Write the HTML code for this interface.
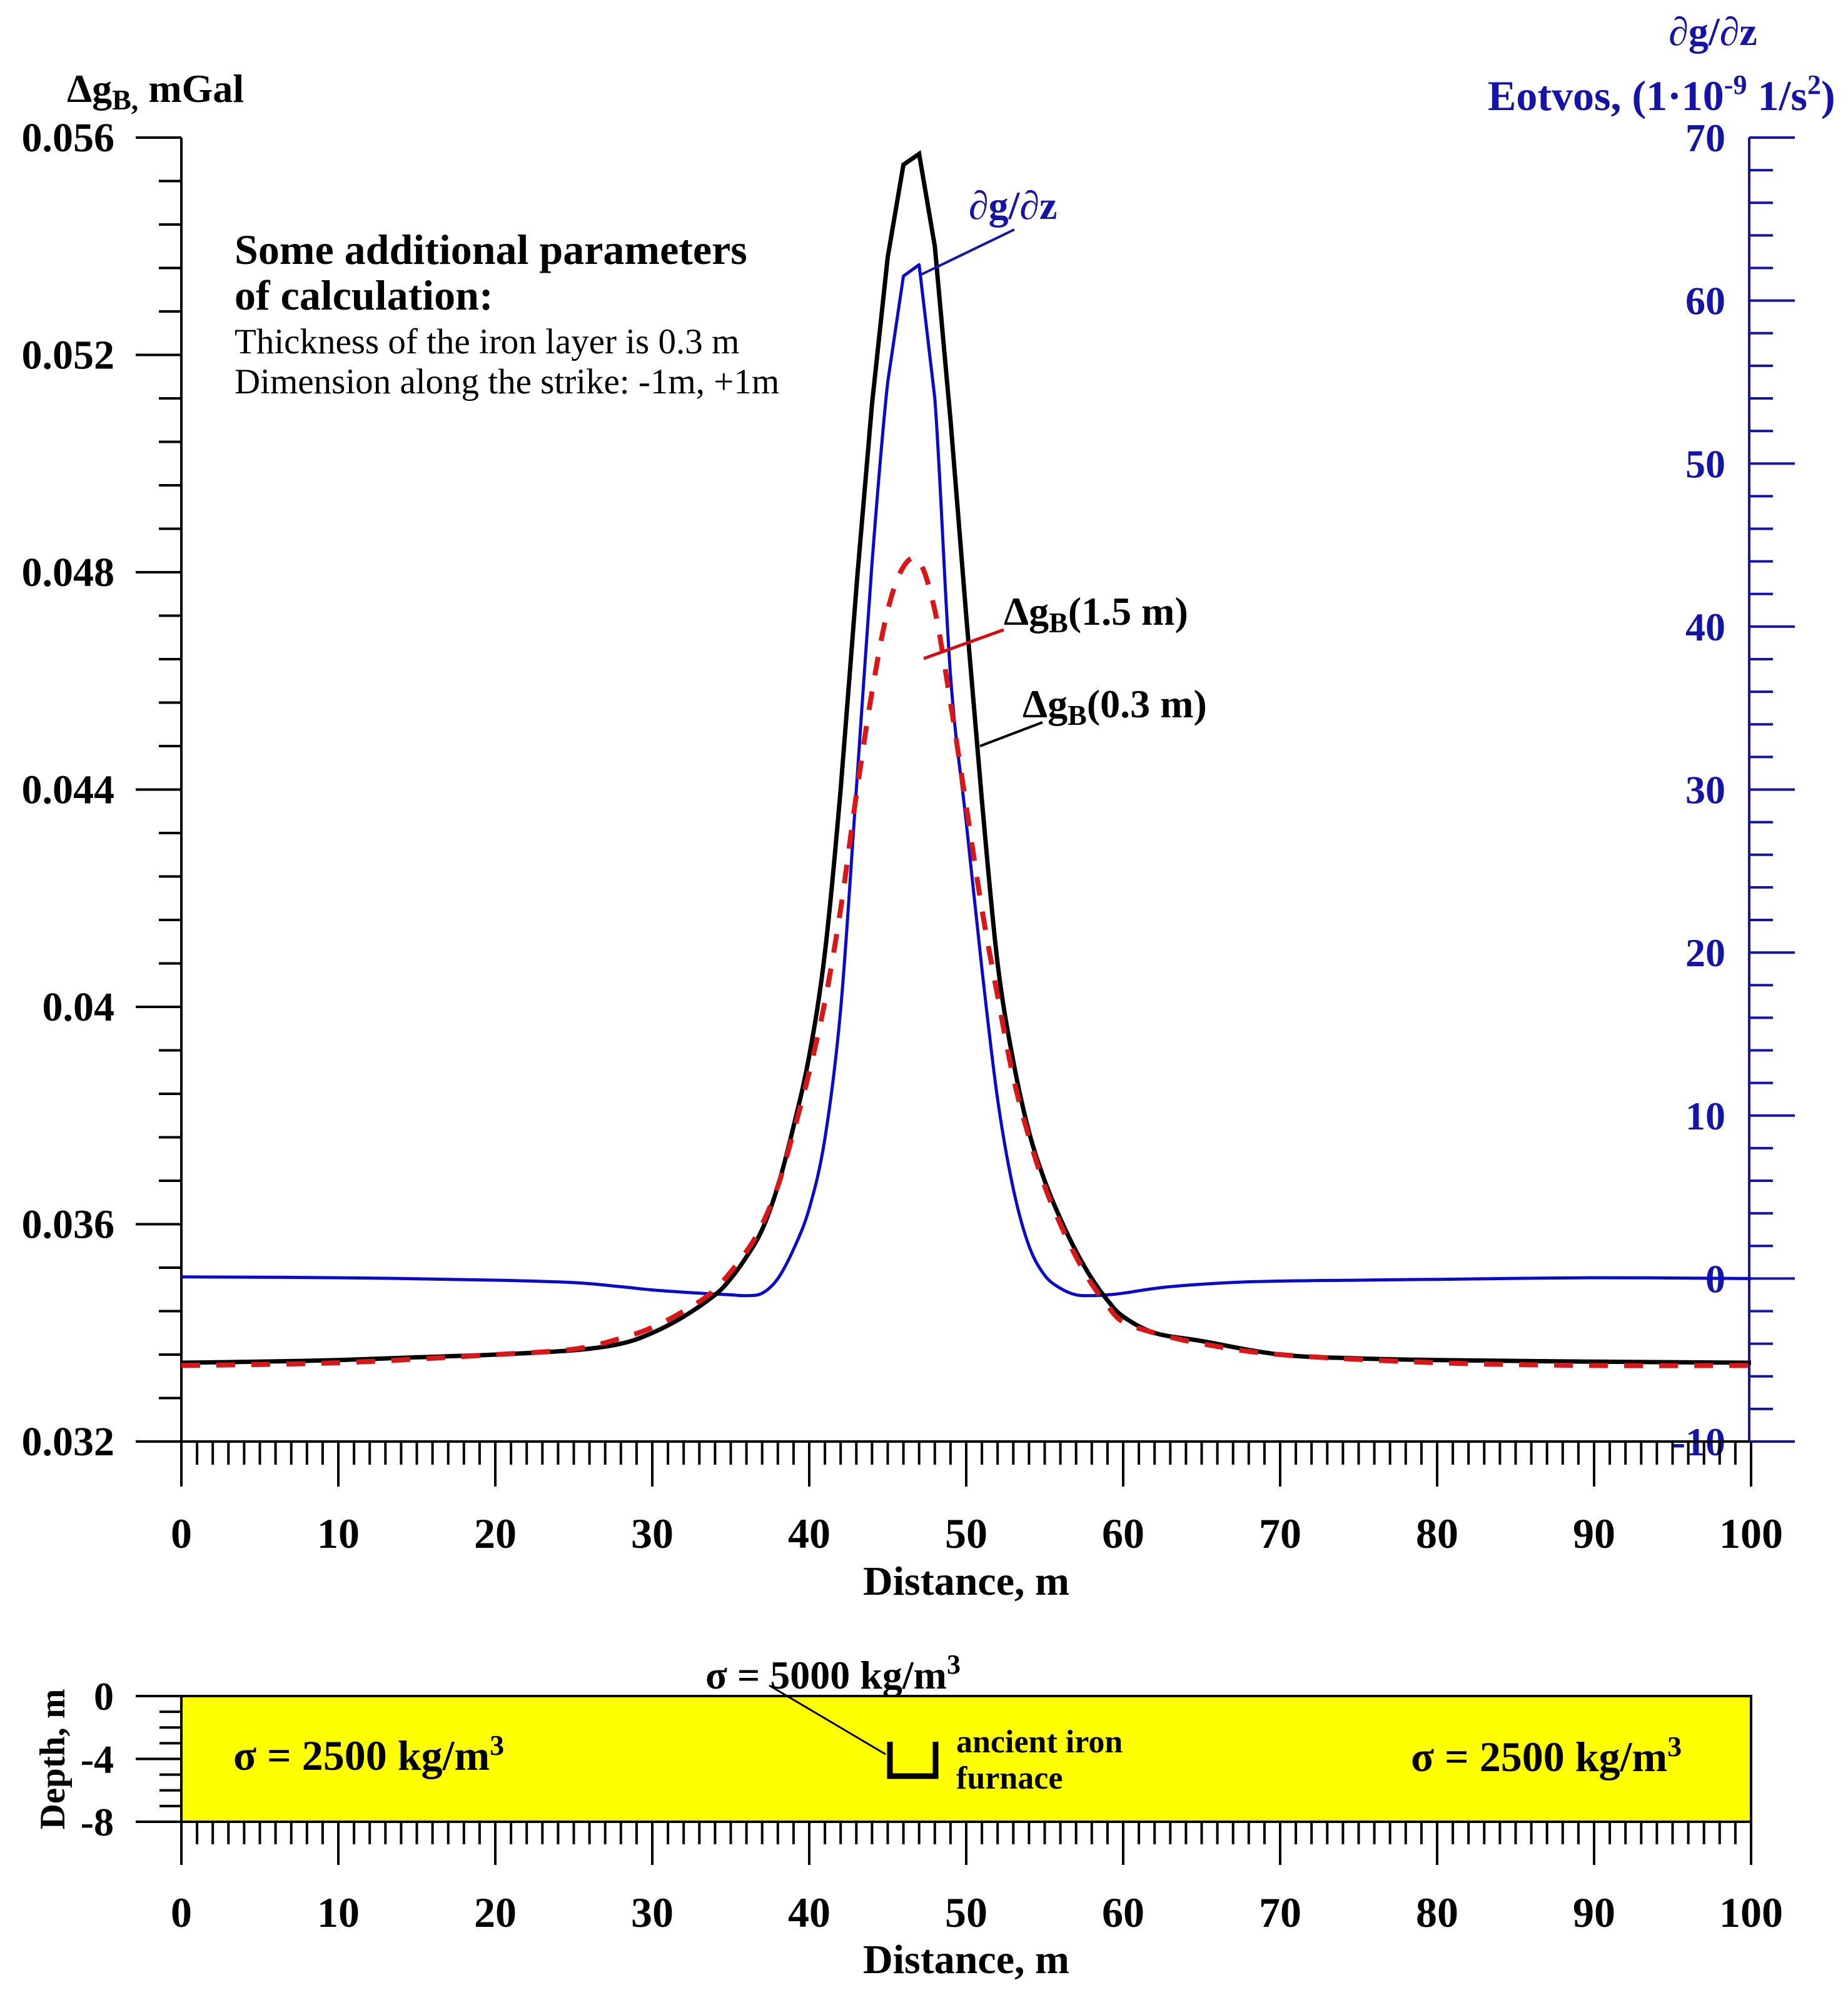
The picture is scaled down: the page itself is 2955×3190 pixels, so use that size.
<!DOCTYPE html>
<html><head><meta charset="utf-8">
<style>
html,body{margin:0;padding:0;background:#fff;}
svg{display:block;}
text{font-family:"Liberation Serif",serif;font-weight:bold;}
</style></head>
<body>
<svg id="chart" width="2955" height="3190" viewBox="0 0 2955 3190" xmlns="http://www.w3.org/2000/svg">
<g id="axes"></g>
<g id="series"></g>
<g id="labels">
  <text x="107" y="163" font-size="64">Δg<tspan font-size="46" dy="12">B,</tspan><tspan dy="-12"> mGal</tspan></text>
  <text x="2739" y="72" font-size="64" fill="#1414a8" text-anchor="middle"><tspan font-weight="normal">∂</tspan>g/<tspan font-weight="normal">∂</tspan>z</text>
  <text x="2379" y="176" font-size="68" fill="#1414a8">Eotvos, (1·10<tspan font-size="44" dy="-26">-9</tspan><tspan dy="26"> 1/s</tspan><tspan font-size="44" dy="-26">2</tspan><tspan dy="26">)</tspan></text>
  <text x="375" y="422" font-size="68">Some additional parameters</text>
  <text x="375" y="495" font-size="68">of calculation:</text>
  <text x="375" y="565" font-size="57" style="font-weight:normal">Thickness of the iron layer is 0.3 m</text>
  <text x="375" y="629" font-size="57" style="font-weight:normal">Dimension along the strike: -1m, +1m</text>
  <text x="1549" y="350" font-size="64" fill="#1414a8"><tspan style="font-weight:normal">∂</tspan>g/<tspan style="font-weight:normal">∂</tspan>z</text>
  <line x1="1622" y1="367" x2="1473" y2="439" stroke="#1414a8" stroke-width="4"/>
  <text x="1605" y="999" font-size="64">Δg<tspan font-size="46" dy="12">B</tspan><tspan dy="-12">(1.5 m)</tspan></text>
  <line x1="1605" y1="1007" x2="1477" y2="1053" stroke="#d01010" stroke-width="5"/>
  <text x="1635" y="1147" font-size="64">Δg<tspan font-size="46" dy="12">B</tspan><tspan dy="-12">(0.3 m)</tspan></text>
  <line x1="1667" y1="1155" x2="1567" y2="1193" stroke="#000" stroke-width="4"/>
  <text x="1545" y="2550" font-size="66" text-anchor="middle">Distance, m</text>
</g>
<g id="section">
  <rect x="290" y="2712" width="2510" height="201" fill="#ffff00" stroke="#000" stroke-width="4"/>
  <text x="373" y="2830" font-size="68">σ = 2500 kg/m<tspan font-size="46" dy="-24">3</tspan></text>
  <text x="2256" y="2832" font-size="68">σ = 2500 kg/m<tspan font-size="46" dy="-24">3</tspan></text>
  <text x="1128" y="2700" font-size="64">σ = 5000 kg/m<tspan font-size="44" dy="-24">3</tspan></text>
  <line x1="1230" y1="2695" x2="1416" y2="2805" stroke="#000" stroke-width="3"/>
  <path d="M1423 2785 V2840 H1496 V2785" fill="none" stroke="#000" stroke-width="9"/>
  <text x="1529" y="2802" font-size="52">ancient iron</text>
  <text x="1529" y="2860" font-size="52">furnace</text>
  <text transform="translate(103,2813) rotate(-90)" font-size="57" text-anchor="middle">Depth, m</text>
  <text x="1545" y="3155" font-size="66" text-anchor="middle">Distance, m</text>
</g>
</svg>
<script>
// ---- data ----
const distBlack = [0,5,10,15,20,25,28,30,32,34,35,36,37,38,39,40,41,42,43,44,45,46,47,48,49,50,51,52,53,54,55,56,57,58,59,60,62,65,70,75,80,90,100];
const gBlack   = [0.03345,0.03347,0.0335,0.03355,0.0336,0.03368,0.0338,0.034,0.0343,0.0347,0.0350,0.0354,0.0359,0.0367,0.0378,0.0391,0.0410,0.0440,0.0477,0.0511,0.0538,0.0555,0.0557,0.0540,0.0508,0.0472,0.0438,0.0408,0.0390,0.0377,0.0368,0.0361,0.0355,0.0350,0.0346,0.0343,0.0340,0.03385,0.0336,0.03353,0.0335,0.03347,0.03345];
const distRed = [0,10,20,25,28,30,32,34,36,37,38,39,40,41,42,43,44,45,46,47,48,49,50,51,52,53,54,55,56,57,58,59,60,62,65,70,80,90,100];
const gRed    = [0.0334,0.03345,0.0336,0.0337,0.0339,0.0341,0.0344,0.0348,0.0355,0.0360,0.0367,0.0377,0.0388,0.0401,0.0418,0.0439,0.0458,0.0473,0.0481,0.0482,0.0473,0.0456,0.0437,0.0418,0.0402,0.0387,0.0376,0.0367,0.0360,0.0354,0.0349,0.0345,0.0342,0.0340,0.0338,0.0336,0.03345,0.0334,0.0334];
const distBlue = [0,10,20,25,28,30,33,35,36,37,38,39,40,41,42,43,44,45,46,47,48,49,50,51,52,53,54,55,56,57,58,59,60,63,68,75,80,90,100];
const dgdzBlue = [0.1,0.05,-0.1,-0.25,-0.5,-0.7,-0.9,-1.0,-1.05,-0.9,0.0,1.8,4.3,8.6,16.5,30,43.9,55,61.5,62.2,54,37,28,19,11,5.5,2,0.2,-0.6,-1.0,-1.05,-1.0,-0.9,-0.5,-0.2,-0.1,-0.05,0.05,0.0];
const xTicks = [0,10,20,30,40,50,60,70,80,90,100];
const leftTicks = ["0.032","0.036","0.04","0.044","0.048","0.052","0.056"];
const rightTicks = ["-10","0","10","20","30","40","50","60","70"];
const depthTicks = ["0","-4","-8"];

// ---- scales ----
const X0=290, X1=2800, YT=220, YB=2305;
const xS = d => X0 + (d-0)/(100-0)*(X1-X0);
const yL = v => YB - (v-0.032)/(0.056-0.032)*(YB-YT);
const yR = v => YB - (v+10)/(70+10)*(YB-YT);
const DT=2712, DB=2913;
const yD = v => DT + (0-v)/8*(DB-DT);
const NS="http://www.w3.org/2000/svg";
const axes=document.getElementById('axes');
const series=document.getElementById('series');
function mk(tag,attrs,parent){const e=document.createElementNS(NS,tag);for(const k in attrs)e.setAttribute(k,attrs[k]);parent.appendChild(e);return e;}

let e=mk('line',{x1:X0,y1:YT,x2:X0,y2:YB,stroke:'#000','stroke-width':4},axes);


for(let i=0;i<=30;i++){
  const v=0.032+i*0.0008, y=yL(v), major=(i%5===0);
  e=mk('line',{x1:major?217:254,y1:y,x2:X0,y2:y,stroke:'#000','stroke-width':4},axes);
  
  
}
leftTicks.forEach(t=>{
  e=mk('text',{x:183,y:yL(parseFloat(t))+22,'font-size':66,'text-anchor':'end'},axes);
  e.textContent=t;
  
  
});
const BLUE='#1414a8';
e=mk('line',{x1:2797,y1:YT,x2:2797,y2:YB,stroke:BLUE,'stroke-width':4},axes);


for(let i=0;i<=40;i++){
  const v=-10+i*2, y=yR(v), major=(i%5===0);
  e=mk('line',{x1:2797,y1:y,x2:major?2870:2835,y2:y,stroke:BLUE,'stroke-width':4},axes);
  
  
}
rightTicks.forEach(t=>{
  e=mk('text',{x:2759,y:yR(parseFloat(t))+22,'font-size':64,'text-anchor':'end',fill:BLUE},axes);
  e.textContent=t;
  
  
});
e=mk('line',{x1:X0,y1:YB,x2:2797,y2:YB,stroke:'#000','stroke-width':4},axes);


for(let d=0;d<=100;d++){
  const major=(d%10===0);
  e=mk('line',{x1:xS(d),y1:YB,x2:xS(d),y2:major?2377:2342,stroke:'#000','stroke-width':4},axes);
  
  
  e=mk('line',{x1:xS(d),y1:DB,x2:xS(d),y2:major?2982:2949,stroke:'#000','stroke-width':4},axes);
  
  
}
xTicks.forEach(t=>{
  e=mk('text',{x:xS(t),y:2475,'font-size':68,'text-anchor':'middle'},axes);
  e.textContent=t;
  
  
  e=mk('text',{x:xS(t),y:3081,'font-size':68,'text-anchor':'middle'},axes);
  e.textContent=t;
  
  
});
for(let i=0;i<=8;i++){
  const y=yD(-i), major=(i%4===0);
  e=mk('line',{x1:major?217:255,y1:y,x2:X0,y2:y,stroke:'#000','stroke-width':4},axes);
  
  
}
depthTicks.forEach(t=>{
  e=mk('text',{x:182,y:yD(parseFloat(t))+22,'font-size':64,'text-anchor':'end'},axes);
  e.textContent=t;
  
  
});

// Catmull-Rom smoothing, linear segments inside the sharp peak window
function pathOf(xs,ys,ysc,linLo,linHi){
  const P=xs.map((d,i)=>[xS(d),ysc(ys[i])]);
  let s='M'+P[0][0].toFixed(1)+' '+P[0][1].toFixed(1);
  for(let i=0;i<P.length-1;i++){
    if(xs[i]>=linLo && xs[i+1]<=linHi){s+=' L'+P[i+1][0].toFixed(1)+' '+P[i+1][1].toFixed(1);continue;}
    const p0=P[Math.max(0,i-1)],p1=P[i],p2=P[i+1],p3=P[Math.min(P.length-1,i+2)];
    const c1=[p1[0]+(p2[0]-p0[0])/6,p1[1]+(p2[1]-p0[1])/6];
    const c2=[p2[0]-(p3[0]-p1[0])/6,p2[1]-(p3[1]-p1[1])/6];
    s+=' C'+c1[0].toFixed(1)+' '+c1[1].toFixed(1)+' '+c2[0].toFixed(1)+' '+c2[1].toFixed(1)+' '+p2[0].toFixed(1)+' '+p2[1].toFixed(1);
  }
  return s;
}
e=mk('path',{d:pathOf(distBlue,dgdzBlue,yR,45,48),fill:'none',stroke:'#0a0ac8','stroke-width':5,'stroke-linejoin':'round'},series);


e=mk('path',{d:pathOf(distBlack,gBlack,yL,44,49),fill:'none',stroke:'#000','stroke-width':7,'stroke-linejoin':'miter'},series);


e=mk('path',{d:pathOf(distRed,gRed,yL,200,200),fill:'none',stroke:'#d81818','stroke-width':8,'stroke-dasharray':'30 26'},series);


</script>
</body></html>
